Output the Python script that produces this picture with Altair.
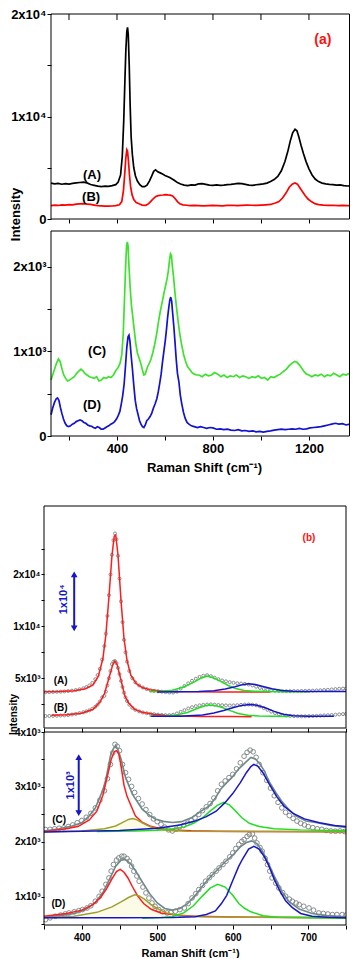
import altair as alt
import pandas as pd

FONT = "Liberation Sans"
RED_A = "#ff0000"
GREEN_A = "#3ee22e"
BLUE_A = "#1212d0"
RED_B = "#ff1c1c"
GREEN_B = "#22dd22"
BLUE_B = "#1616c8"
OLIVE_B = "#a0a030"
ENV_B = "#6f8888"
CIRC_B = "#7a8080"
FILL_OLIVE = "#f6f6b8"

# ---------------- panel (a), upper: spectra (A) and (B) ----------------
A_X = [125,140,155,170,185,200,215,230,245,260,275,290,305,320,335,350,365,380,395,
       405,415,422,428,433,437,441,444,447,451,455,459,464,470,477,485,495,
       505,515,525,535,545,553,561,570,580,590,600,610,620,630,640,652,665,680,695,
       710,725,740,755,770,785,800,815,830,845,860,875,890,905,920,935,950,965,980,995,1010,1025,1040,1055,1070,
       1085,1100,1112,1122,1132,1142,1150,1158,1167,1177,1188,1200,1213,1226,1240,1255,1270,1285,1300,1315,1330,1345,1360,1375,1390,1400]
A_Y = [3500,3420,3480,3390,3450,3400,3470,3520,3560,3600,3520,3360,3280,3200,3150,3200,3180,3260,3350,
       3600,4300,6100,9500,13500,16500,18300,18700,18000,15000,11000,8000,6300,5000,4200,3700,3350,
       3150,3150,3300,3700,4200,4650,4800,4600,4500,4380,4250,4150,4050,3900,3750,3550,3420,3300,3260,
       3330,3300,3420,3450,3380,3310,3290,3320,3280,3300,3350,3380,3420,3480,3450,3380,3310,3290,3340,3380,3420,3500,3650,3850,4150,
       4700,5600,6600,7600,8400,8750,8600,8000,7200,6400,5600,4900,4300,3900,3650,3500,3420,3380,3350,3300,3330,3260,3220,3240,3200,3180]
B_X = [125,140,155,170,185,200,215,230,245,260,275,290,305,320,335,350,365,380,395,
       410,420,427,432,437,441,444,448,452,457,463,470,480,492,505,520,
       532,542,552,562,572,582,592,602,612,622,632,642,652,662,675,690,705,720,
       740,760,780,800,820,840,860,880,900,920,940,960,980,1000,1020,1040,
       1060,1075,1090,1105,1118,1130,1142,1152,1162,1172,1184,1196,1210,1225,1240,1260,1280,1300,1320,1340,1360,1380,1400]
B_Y = [1300,1350,1320,1380,1350,1400,1380,1450,1480,1500,1460,1420,1360,1300,1280,1260,1250,1270,1300,
       1380,1700,2800,4300,6000,6750,6600,5600,4300,3100,2350,1900,1600,1480,1360,1340,
       1500,1750,2000,2200,2280,2320,2340,2380,2350,2330,2250,2000,1700,1480,1380,1340,1300,1330,
       1310,1280,1300,1330,1310,1290,1320,1340,1310,1330,1360,1340,1320,1350,1380,1420,
       1560,1700,2050,2550,3100,3400,3520,3400,3050,2700,2300,1950,1700,1500,1400,1350,1330,1340,1310,1330,1300,1320,1310]

# ---------------- panel (a), lower: spectra (C) and (D) ----------------
C_X = [125,132,140,148,156,163,170,178,186,194,202,212,222,232,242,250,258,266,275,285,
       295,305,315,325,335,345,355,365,375,385,395,405,413,420,426,431,436,440,443,446,
       450,455,460,466,472,478,485,492,499,506,512,518,525,533,541,549,557,565,573,581,
       589,596,603,609,614,619,623,627,631,636,642,648,655,662,670,678,686,694,702,712,
       722,732,742,755,768,781,794,807,820,833,846,859,872,885,898,911,924,937,950,963,
       976,989,1002,1015,1028,1041,1054,1067,1080,1093,1106,1118,1130,1140,1150,1160,1170,1180,1190,1200,
       1212,1225,1238,1251,1264,1277,1290,1303,1316,1329,1342,1355,1368,1381,1394,1400]
C_Y = [660,720,790,860,910,880,800,720,680,650,660,680,700,740,770,790,770,740,720,700,
       690,680,700,650,660,690,680,700,690,720,770,810,860,960,1200,1600,2000,2250,2290,2250,
       2000,1750,1550,1400,1250,1100,980,920,860,780,720,730,800,850,900,980,1080,1200,1350,1480,
       1590,1690,1780,1860,1950,2080,2150,2130,2000,1870,1680,1520,1350,1200,1070,960,880,820,790,750,
       730,720,720,700,730,710,720,750,730,700,720,690,710,700,720,690,710,700,680,700,
       690,710,680,690,660,700,690,710,730,760,790,830,860,880,870,840,800,760,730,720,
       700,720,710,730,700,720,710,740,720,700,730,720,740,730,750,740]
D_X = [125,132,140,147,152,158,164,170,177,184,191,198,206,214,222,230,238,246,254,262,
       270,278,286,294,302,310,318,326,334,342,350,358,366,374,382,390,398,405,412,418,
       424,430,436,441,446,450,454,459,464,470,476,482,488,494,500,506,512,518,524,531,
       538,545,552,559,566,572,578,584,590,596,601,606,611,616,620,624,628,632,637,642,
       647,652,658,664,670,677,684,692,700,710,722,735,748,761,774,787,800,815,830,845,
       860,875,890,905,920,935,950,965,980,995,1010,1025,1040,1055,1070,1085,1100,1115,1130,1145,
       1160,1175,1190,1205,1220,1235,1250,1265,1280,1295,1310,1325,1340,1355,1370,1385,1400]
D_Y = [250,330,400,440,450,420,340,270,200,150,120,110,120,140,150,170,180,190,180,160,
       150,130,120,115,100,90,110,100,80,80,95,110,120,140,150,170,200,240,290,380,
       480,620,850,1050,1170,1190,1120,950,800,600,420,320,250,180,140,110,100,130,180,200,
       230,270,330,380,440,520,620,730,880,1010,1120,1250,1400,1520,1600,1640,1590,1450,1290,1100,
       900,740,640,480,380,280,210,160,140,120,110,100,110,100,90,100,95,80,85,75,
       80,70,65,75,60,65,55,60,50,55,45,55,60,70,75,80,75,80,85,80,
       90,80,85,95,100,105,110,120,130,140,150,140,145,130,140,150,140]

# ---------------- panel (b), upper: (A) and (B) data + fitted bands ----------------
BAB_X = [352,357,362,367,372,377,382,387,392,397,402,406,410,414,418,421,424,427,430,432,
         434,436,438,440,442,444,446,448,450,452,454,456,458,460,463,467,471,476,481,486,
         491,496,501,506,511,516,521,526,531,536,541,546,551,556,561,566,571,576,581,586,
         591,596,601,606,611,616,621,626,631,636,641,646,651,656,661,666,671,676,681,686,
         691,696,701,706,711,716,721,726,731,736,741,746,750]
BA_Y = [3650,3660,3680,3690,3700,3720,3760,3800,3860,3930,4020,4140,4300,4550,4900,5300,5900,6800,8100,9300,
        11000,13000,15000,16900,18300,18950,18400,16800,14600,12400,10400,8700,7500,6600,5700,5000,4600,4300,4100,3950,
        3850,3780,3740,3700,3660,3620,3620,3700,4000,4250,4500,4750,4950,5120,5240,5290,5200,5050,4900,4780,
        4700,4620,4560,4510,4480,4450,4380,4300,4180,4060,3960,3880,3830,3790,3770,3760,3750,3750,3760,3760,
        3770,3780,3790,3800,3820,3840,3860,3880,3920,3950,3980,4000,4010]
BB_Y = [1350,1360,1370,1380,1400,1420,1450,1500,1560,1640,1720,1800,1900,2050,2250,2450,2750,3150,3300,3700,
        4300,5000,5700,6350,6600,6650,6450,6000,5400,4750,4150,3600,3150,2800,2450,2150,1950,1800,1700,1620,
        1570,1530,1490,1460,1440,1440,1480,1600,1760,1920,2080,2200,2300,2380,2430,2460,2470,2450,2420,2400,
        2380,2370,2380,2400,2430,2460,2470,2450,2390,2280,2120,1950,1780,1640,1530,1450,1400,1370,1350,1340,
        1330,1330,1340,1350,1370,1390,1410,1430,1450,1480,1510,1540,1560]
RA_X = [350,370,390,405,415,422,428,432,436,440,443,445,448,452,456,460,465,472,480,490,505,525,550,580,620,650]
RA_Y = [3690,3720,3800,3980,4350,5200,6900,9200,12800,16800,18700,18800,16900,12500,8800,6700,5300,4500,4100,3880,3760,3710,3690,3680,3670,3670]
GA_X = [490,505,520,535,548,558,566,574,584,594,604,615,628,645,670,700]
GA_Y = [3700,3740,3850,4150,4600,5000,5200,5050,4700,4300,4000,3820,3740,3710,3700,3700]
BLA_X = [500,530,555,575,590,603,613,621,630,640,652,665,680,700,725,750]
BLA_Y = [3680,3690,3720,3800,3950,4180,4380,4470,4400,4200,3980,3820,3750,3730,3720,3720]
RB_X = [360,380,400,415,424,430,436,441,444,447,452,457,462,470,480,495,510,530,560,600,625]
RB_Y = [1430,1470,1620,2000,2700,3500,5000,6300,6650,6300,4800,3300,2600,2000,1720,1520,1420,1360,1320,1300,1290]
GB_X = [490,510,525,540,552,561,568,575,585,596,607,620,635,655,675]
GB_Y = [1330,1360,1450,1700,2050,2300,2420,2380,2200,1900,1600,1420,1350,1330,1320]
BLB_X = [492,530,560,575,588,600,612,622,632,643,655,667,680,700,734]
BLB_Y = [1330,1340,1450,1650,1880,2150,2380,2470,2400,2150,1800,1520,1380,1340,1330]

# ---------------- panel (b), lower: (C) and (D) data + fitted bands ----------------
CC_X = [352,358,364,370,376,382,388,394,400,406,412,418,424,430,434,438,441,444,447,450,
        454,458,462,466,470,475,480,485,490,495,500,505,510,515,520,525,530,535,540,545,
        550,555,560,565,570,575,580,585,590,595,600,605,610,615,619,623,627,631,635,640,
        645,650,655,660,665,670,675,680,685,690,695,700,706,712,718,724,730,736,742,748]
CC_Y = [2227,2230,2240,2250,2255,2280,2310,2350,2390,2450,2520,2620,2760,2930,3150,3410,3620,3775,3740,3660,
        3410,3260,3140,3010,2900,2790,2690,2590,2500,2420,2370,2320,2270,2220,2200,2230,2280,2300,2340,2390,
        2440,2500,2570,2640,2700,2800,2930,3050,3110,3170,3230,3330,3440,3560,3630,3670,3640,3540,3410,3260,
        3120,2980,2840,2720,2620,2540,2480,2430,2380,2340,2310,2280,2260,2240,2230,2210,2200,2195,2200,2190]
CE_X = [350,370,387,400,410,418,423,428,432,435,438,442,445,448,452,458,467,480,490,498,
        508,520,532,546,558,569,577,584,592,599,608,617,624,630,636,642,648,657,666,675,
        684,697,710,730,750]
CE_Y = [2200,2240,2292,2350,2475,2620,2779,2950,3143,3350,3568,3700,3750,3680,3508,3174,2870,2597,2480,2414,
        2375,2354,2370,2445,2560,2657,2800,2961,3080,3174,3330,3447,3538,3510,3420,3290,3100,2900,2720,2580,
        2470,2380,2354,2300,2263]
RC_X = [350,375,395,410,420,428,434,439,443,446,449,452,456,460,464,471,480,490,505,520,545,580,650,750]
RC_Y = [2190,2230,2280,2400,2560,2850,3200,3500,3640,3660,3600,3390,3030,2830,2700,2475,2360,2292,2240,2220,2205,2195,2190,2185]
OC_X = [350,400,430,445,455,462,467,472,480,490,500,515,540,600,750]
OC_Y = [2185,2200,2240,2290,2360,2410,2425,2410,2350,2280,2235,2210,2195,2190,2185]
OC_BASE = 2185
GC_X = [420,470,500,520,535,548,560,570,580,588,596,604,612,622,635,655,690,750]
GC_Y = [2190,2200,2215,2235,2270,2340,2440,2560,2670,2720,2670,2560,2440,2340,2280,2240,2220,2205]
BLC_X = [350,400,450,500,530,550,565,578,590,600,610,618,624,628,633,640,648,658,668,680,695,715,735,750]
BLC_Y = [2180,2195,2210,2250,2310,2380,2460,2560,2720,2880,3080,3260,3370,3410,3380,3260,3060,2830,2650,2520,2420,2350,2300,2280]
DC_X = [352,358,365,372,378,383,390,396,401,407,412,418,423,427,432,436,439,442,446,449,
        453,456,460,463,466,469,473,476,481,485,489,493,497,502,507,513,518,524,530,536,
        541,546,551,555,560,564,569,573,578,582,587,591,596,600,604,608,612,615,619,622,
        626,629,632,636,639,643,646,649,652,657,661,666,670,675,679,684,688,694,701,707,
        714,720,726,732,738,745,750]
DC_Y = [588,620,649,670,690,709,730,750,770,800,840,922,1010,1104,1230,1346,1470,1589,1670,1710,
        1740,1741,1700,1650,1560,1468,1380,1286,1180,1073,980,891,830,770,730,709,720,740,770,800,
        880,982,1060,1134,1210,1286,1350,1407,1470,1528,1590,1650,1730,1801,1880,1953,2010,2044,2100,2135,
        2147,2070,1983,1900,1832,1700,1589,1470,1346,1250,1164,1080,1013,960,922,890,861,830,800,760,
        709,700,690,679,680,679,670]
DE_X = [350,370,390,405,418,428,437,445,452,458,465,472,480,490,500,510,520,530,540,550,
        560,570,580,590,600,610,618,625,632,640,648,656,665,675,688,705,725,750]
DE_Y = [630,660,700,770,900,1080,1330,1560,1670,1680,1600,1460,1280,1060,890,790,760,790,880,1020,
        1200,1360,1500,1640,1760,1910,1990,2020,1970,1820,1590,1350,1100,910,780,700,660,640]
RD_X = [350,380,400,415,425,433,440,446,451,456,461,467,474,482,492,505,525,550,600,750]
RD_Y = [650,700,760,860,990,1150,1330,1460,1500,1450,1350,1190,1020,880,775,710,670,650,635,620]
OD_X = [350,390,420,440,452,462,470,476,483,491,500,512,530,560,620,750]
OD_Y = [620,650,720,820,910,990,1040,1020,960,870,790,710,660,640,630,625]
OD_BASE = 620
GD_X = [480,505,520,535,548,560,570,580,590,600,608,616,624,640,660,700,750]
GD_Y = [615,625,645,710,840,1020,1160,1230,1180,1030,880,790,730,660,630,620,615]
BLD_X = [350,450,520,550,565,577,585,592,600,608,613,621,628,635,642,648,655,662,670,679,690,705,725,750]
BLD_Y = [620,620,625,640,680,745,880,1030,1300,1560,1690,1870,1920,1870,1730,1560,1320,1120,930,807,700,650,630,620]

# inward tick marks along the top edge of the upper (a) panel
TOP_TICKS_A = [200, 400, 600, 800, 1000, 1200]


def long_df(series):
    rows = []
    for name, xs, ys in series:
        for xv, yv in zip(xs, ys, strict=True):
            rows.append({"x": xv, "y": yv, "s": name})
    return pd.DataFrame(rows)


def build_panel(df, styles, xs, ys, xaxis, yaxis, frame, texts, w, h, extra=(), pre=()):
    X = alt.X("x:Q", scale=xs, axis=xaxis)
    Y = alt.Y("y:Q", scale=ys, axis=yaxis)
    layers = []
    for p in pre:
        layers.extend(p(X, Y))
    for name, kind, props in styles:
        base = alt.Chart(df).transform_filter(alt.datum.s == name)
        m = base.mark_line(clip=True, **props) if kind == "line" else base.mark_point(clip=True, **props)
        layers.append(m.encode(x=X, y=Y))
    for tx, ty, t, props in texts:
        layers.append(alt.Chart(pd.DataFrame({"x": [tx], "y": [ty], "t": [t]}))
                      .mark_text(font=FONT, fontWeight="bold", **props)
                      .encode(x=X, y=Y, text="t:N"))
    for e in extra:
        layers.extend(e(X, Y))
    x0, x1, y0, y1 = frame
    layers.append(alt.Chart(pd.DataFrame({"x": [x0], "x2": [x1], "y": [y0], "y2": [y1]}))
                  .mark_rect(fill="transparent", stroke="black", strokeWidth=1)
                  .encode(x=X, x2="x2:Q", y=Y, y2="y2:Q"))
    return alt.layer(*layers).properties(width=w, height=h)


def arrow(xv, ylo, yhi, label, lx, ly):
    def make(X, Y):
        r = alt.Chart(pd.DataFrame({"x": [xv], "y": [ylo], "y2": [yhi]})).mark_rule(
            color=BLUE_B, strokeWidth=2).encode(x=X, y=Y, y2="y2:Q")
        up = alt.Chart(pd.DataFrame({"x": [xv], "y": [yhi]})).mark_point(
            shape="triangle-up", filled=True, size=45, color=BLUE_B, opacity=1).encode(x=X, y=Y)
        dn = alt.Chart(pd.DataFrame({"x": [xv], "y": [ylo]})).mark_point(
            shape="triangle-down", filled=True, size=45, color=BLUE_B, opacity=1).encode(x=X, y=Y)
        tx = alt.Chart(pd.DataFrame({"x": [lx], "y": [ly], "t": [label]})).mark_text(
            font=FONT, fontWeight="bold", fontSize=11, color=BLUE_B, angle=270).encode(
            x=X, y=Y, text="t:N")
        return [r, up, dn, tx]
    return make


def shaded(xs_list, ys_list, base):
    def make(X, Y):
        return [alt.Chart(pd.DataFrame({"x": xs_list, "y": ys_list})).mark_area(
            color=FILL_OLIVE, opacity=0.35, clip=True).encode(x=X, y=Y, y2=alt.datum(base))]
    return make


def top_ticks(values):
    def make(X, Y):
        return [alt.Chart(pd.DataFrame({"x": values})).mark_rule(color="black", strokeWidth=1).encode(
            x=X, y=alt.value(0), y2=alt.value(6))]
    return make


# ---------- panel (a) ----------
XA_END = 1369
XA = alt.Scale(domain=[125, XA_END], range=[7, 305.5], nice=False, zero=False)
YA1 = alt.Scale(domain=[0, 20000], nice=False, zero=False)
YA2 = alt.Scale(domain=[0, 2420], nice=False, zero=False)
XA_VALUES = [200, 400, 600, 800, 1000, 1200]

a1 = build_panel(
    long_df([("A", A_X, A_Y), ("B", B_X, B_Y)]),
    [("A", "line", dict(color="black", strokeWidth=1.7)),
     ("B", "line", dict(color=RED_A, strokeWidth=1.7))],
    XA, YA1,
    alt.Axis(values=XA_VALUES, labels=False, tickSize=4, domain=False, title=None),
    alt.Axis(values=[0, 5000, 10000, 15000, 20000],
             labelExpr="datum.value == 0 ? '0' : datum.value == 10000 ? '1x10⁴' : datum.value == 20000 ? '2x10⁴' : ''",
             tickSize=4, offset=-7, domain=False, labelFontSize=13, labelPadding=1,
             title="Intensity", titleFontSize=13, titleX=-36, titleY=200, titleAngle=270,
             titleAlign="center", titleBaseline="middle"),
    (125, XA_END, 0, 20000),
    [(1258, 17480, "(a)", dict(fontSize=14, color="#ff1010")),
     (296, 4250, "(A)", dict(fontSize=13, color="black")),
     (292, 2125, "(B)", dict(fontSize=13, color="black"))],
    306, 205,
    pre=[top_ticks(TOP_TICKS_A)])

a2 = build_panel(
    long_df([("C", C_X, C_Y), ("D", D_X, D_Y)]),
    [("C", "line", dict(color=GREEN_A, strokeWidth=1.7)),
     ("D", "line", dict(color=BLUE_A, strokeWidth=1.7))],
    XA, YA2,
    alt.Axis(values=XA_VALUES, labelExpr="datum.value % 400 == 0 ? '' + datum.value : ''",
             tickSize=4, domain=False, labelFontSize=13, labelPadding=2,
             title="Raman Shift (cm⁻¹)", titleFontSize=13, titleX=160, titleY=31,
             titleAlign="center", titleBaseline="middle"),
    alt.Axis(values=[0, 500, 1000, 1500, 2000],
             labelExpr="datum.value == 0 ? '0' : datum.value == 1000 ? '1x10³' : datum.value == 2000 ? '2x10³' : ''",
             tickSize=4, offset=-7, domain=False, labelFontSize=13, labelPadding=1,
             title=None),
    (125, XA_END, 0, 2420),
    [(317, 1002, "(C)", dict(fontSize=13, color="black")),
     (296, 369, "(D)", dict(fontSize=13, color="black"))],
    306, 205)

# ---------- panel (b) ----------
XB = alt.Scale(domain=[350, 750], nice=False, zero=False)
YB1 = alt.Scale(domain=[200, 21600], nice=False, zero=False)
YB2 = alt.Scale(domain=[490, 4000], nice=False, zero=False)
XB_VALUES = [350, 400, 450, 500, 550, 600, 650, 700, 750]

circ1 = dict(color=CIRC_B, size=9, strokeWidth=0.9, filled=False, opacity=1)
b1 = build_panel(
    long_df([("Ad", BAB_X, BA_Y), ("Bd", BAB_X, BB_Y),
             ("Ar", RA_X, RA_Y), ("Ag", GA_X, GA_Y), ("Ab", BLA_X, BLA_Y),
             ("Br", RB_X, RB_Y), ("Bg", GB_X, GB_Y), ("Bb", BLB_X, BLB_Y)]),
    [("Ad", "point", circ1), ("Bd", "point", circ1),
     ("Ar", "line", dict(color=RED_B, strokeWidth=1.5)),
     ("Br", "line", dict(color=RED_B, strokeWidth=1.5)),
     ("Ag", "line", dict(color=GREEN_B, strokeWidth=1.5)),
     ("Bg", "line", dict(color=GREEN_B, strokeWidth=1.5)),
     ("Ab", "line", dict(color=BLUE_B, strokeWidth=1.5)),
     ("Bb", "line", dict(color=BLUE_B, strokeWidth=1.5))],
    XB, YB1,
    alt.Axis(values=XB_VALUES, labels=False, tickSize=4, domain=False, title=None),
    alt.Axis(values=[2500, 5000, 7500, 10000, 12500, 15000, 17500],
             labelExpr="datum.value == 5000 ? '5x10³' : datum.value == 10000 ? '1x10⁴' : datum.value == 15000 ? '2x10⁴' : ''",
             tickSize=3, domain=False, labelFontSize=10, labelPadding=1,
             title="Intensity", titleFontSize=10, titleX=-30.5, titleY=208, titleAngle=270,
             titleAlign="center", titleBaseline="middle"),
    (350, 750, 200, 21600),
    [(701, 18557, "(b)", dict(fontSize=10, color="#ff1010")),
     (372, 4711, "(A)", dict(fontSize=10, color="black")),
     (372, 2115, "(B)", dict(fontSize=10, color="black"))],
    302, 222,
    extra=[arrow(390, 9800, 15000, "1x10⁴", 376, 12600)])

circ2 = dict(color=CIRC_B, size=22, strokeWidth=0.9, filled=False, opacity=1)
b2 = build_panel(
    long_df([("Cd", CC_X, CC_Y), ("Dd", DC_X, DC_Y),
             ("Ce", CE_X, CE_Y), ("De", DE_X, DE_Y),
             ("Cr", RC_X, RC_Y), ("Dr", RD_X, RD_Y),
             ("Co", OC_X, OC_Y), ("Do", OD_X, OD_Y),
             ("Cg", GC_X, GC_Y), ("Dg", GD_X, GD_Y),
             ("Cb", BLC_X, BLC_Y), ("Db", BLD_X, BLD_Y)]),
    [("Cd", "point", circ2), ("Dd", "point", circ2),
     ("Ce", "line", dict(color=ENV_B, strokeWidth=1.6)),
     ("De", "line", dict(color=ENV_B, strokeWidth=1.6)),
     ("Cr", "line", dict(color=RED_B, strokeWidth=1.5)),
     ("Dr", "line", dict(color=RED_B, strokeWidth=1.5)),
     ("Co", "line", dict(color=OLIVE_B, strokeWidth=1.5)),
     ("Do", "line", dict(color=OLIVE_B, strokeWidth=1.5)),
     ("Cg", "line", dict(color=GREEN_B, strokeWidth=1.5)),
     ("Dg", "line", dict(color=GREEN_B, strokeWidth=1.5)),
     ("Cb", "line", dict(color=BLUE_B, strokeWidth=1.5)),
     ("Db", "line", dict(color=BLUE_B, strokeWidth=1.5))],
    XB, YB2,
    alt.Axis(values=XB_VALUES, labelExpr="datum.value % 100 == 0 ? '' + datum.value : ''",
             tickSize=4, domain=False, labelFontSize=10, labelPadding=3,
             title="Raman Shift (cm⁻¹)", titleFontSize=11, titleX=146, titleY=28,
             titleAlign="center", titleBaseline="middle"),
    alt.Axis(values=[500, 1000, 1500, 2000, 2500, 3000, 3500, 4000],
             labelExpr="datum.value % 1000 == 0 ? (datum.value / 1000) + 'x10³' : ''",
             tickSize=3, domain=False, labelFontSize=10, labelPadding=1,
             title=None),
    (350, 750, 490, 4000),
    [(370, 2396, "(C)", dict(fontSize=10, color="black")),
     (369, 867, "(D)", dict(fontSize=10, color="black"))],
    302, 193,
    extra=[arrow(396, 2523, 3543, "1x10³", 386, 3030)],
    pre=[shaded(OC_X, OC_Y, OC_BASE), shaded(OD_X, OD_Y, OD_BASE)])

group_a = alt.vconcat(a1, a2, spacing=12, bounds="flush").resolve_scale(x="independent", y="independent")
group_b = alt.vconcat(b1, b2, spacing=4, bounds="flush").resolve_scale(x="independent", y="independent")

chart = (alt.vconcat(group_a, group_b, spacing=31, bounds="full")
         .resolve_scale(x="independent", y="independent")
         .properties(padding={"left": 0, "top": 0, "right": 0, "bottom": 0})
         .configure_view(strokeWidth=0)
         .configure_axis(labelFont=FONT, titleFont=FONT, labelFontWeight="bold", titleFontWeight="bold",
                         labelColor="black", titleColor="black", tickColor="black", tickWidth=1,
                         labelFlush=False, labelOverlap=False, grid=False))

chart.save("out.html", embed_options={"renderer": "svg", "actions": False})
